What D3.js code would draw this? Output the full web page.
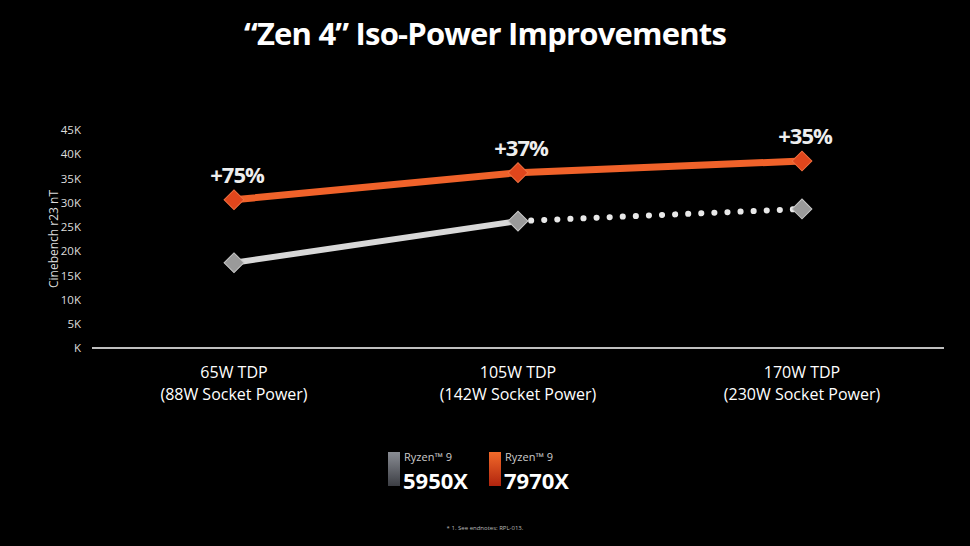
<!DOCTYPE html>
<html><head><meta charset="utf-8">
<script src="https://cdn.jsdelivr.net/npm/d3@7"></script>
<style>body{margin:0;background:#000}svg{display:block}</style>
</head><body><svg id="c" width="970" height="546"></svg>
<script>
const categories = ["65W TDP|(88W Socket Power)", "105W TDP|(142W Socket Power)", "170W TDP|(230W Socket Power)"];
const zen3 = [17600, 26200, 28700];
const zen4 = [30600, 36200, 38600];
const gains = ["+75%", "+37%", "+35%"];
const yTicks = [0, 5000, 10000, 15000, 20000, 25000, 30000, 35000, 40000, 45000];

const svg = d3.select("#c");
const F = "'Open Sans', Lato, sans-serif";
const defs = svg.append("defs");
const gg = defs.append("linearGradient").attr("id","gGray").attr("x1",0).attr("y1",0).attr("x2",0).attr("y2",1);
gg.append("stop").attr("offset",0).attr("stop-color","#8a8d94");
gg.append("stop").attr("offset",1).attr("stop-color","#3c3e44");
const go = defs.append("linearGradient").attr("id","gOr").attr("x1",0).attr("y1",0).attr("x2",0).attr("y2",1);
go.append("stop").attr("offset",0).attr("stop-color","#f26a2a");
go.append("stop").attr("offset",1).attr("stop-color","#b0240e");

const x = d3.scaleBand().domain(categories).range([92, 944]);
const y = d3.scaleLinear().domain([0, 45000]).range([348, 130]);
const cx = d => x(d) + x.bandwidth()/2;

svg.append("text").attr("x",485).attr("y",45).attr("text-anchor","middle")
  .attr("fill","#fff").attr("font-family",F).attr("font-weight",700).attr("font-size",31).attr("letter-spacing",-0.8)
  .text("\u201CZen 4\u201D Iso-Power Improvements");

svg.append("line").attr("x1",92).attr("x2",944).attr("y1",y(0)).attr("y2",y(0)).attr("stroke","#fff").attr("stroke-width",1.5);
const ya = svg.append("g").attr("transform","translate(84,0)")
  .call(d3.axisLeft(y).tickValues(yTicks).tickSize(0).tickFormat(d => (d/1000 || "") + "K"));
ya.select(".domain").remove();
ya.selectAll("text").attr("fill","#ddd").attr("font-family",F).attr("font-size",11.5);
svg.append("text").attr("transform","translate(58,239) rotate(-90)").attr("text-anchor","middle")
  .attr("fill","#ddd").attr("font-family",F).attr("font-size",12).text("Cinebench r23 nT");

categories.forEach(c => {
  const p = c.split("|");
  const t = svg.append("text").attr("x",cx(c)).attr("text-anchor","middle").attr("fill","#fff").attr("font-family",F).attr("font-size",16);
  t.append("tspan").attr("x",cx(c)).attr("y",378).text(p[0]);
  t.append("tspan").attr("x",cx(c)).attr("y",400).text(p[1]);
});

svg.append("line").attr("x1",cx(categories[0])).attr("y1",y(zen3[0])).attr("x2",cx(categories[1])).attr("y2",y(zen3[1]))
  .attr("stroke","#d8d8d8").attr("stroke-width",6);
svg.append("line").attr("x1",cx(categories[1])).attr("y1",y(zen3[1])).attr("x2",cx(categories[2])).attr("y2",y(zen3[2]))
  .attr("stroke","#e8e8e8").attr("stroke-width",6).attr("stroke-linecap","round").attr("stroke-dasharray","0.1 13");
svg.append("path").datum(zen4).attr("fill","none").attr("stroke","#f0622a").attr("stroke-width",7)
  .attr("d", d3.line().x((d,i)=>cx(categories[i])).y(d=>y(d)));

function diamonds(data, fill, stroke){
  svg.selectAll(null).data(data).enter().append("rect")
    .attr("x",-7).attr("y",-7).attr("width",14).attr("height",14)
    .attr("transform",(d,i)=>`translate(${cx(categories[i])},${y(d)}) rotate(45)`)
    .attr("fill",fill).attr("stroke",stroke).attr("stroke-width",1);
}
diamonds(zen3, "#9a9a9a", "#c8c8c8");
diamonds(zen4, "#e0461c", "#f07040");

svg.selectAll(null).data(gains).enter().append("text")
  .attr("x",(d,i)=>cx(categories[i])+3).attr("y",(d,i)=>y(zen4[i])-17).attr("text-anchor","middle")
  .attr("fill","#eee").attr("font-family",F).attr("font-weight",700).attr("font-size",22).attr("letter-spacing",-1).text(d=>d);

const leg = [["url(#gGray)", "5950X", 388], ["url(#gOr)", "7970X", 489]];
leg.forEach(([f, n, lx]) => {
  svg.append("rect").attr("x",lx).attr("y",452).attr("width",12).attr("height",34).attr("fill",f);
  svg.append("text").attr("x",lx+16).attr("y",461).attr("fill","#ccc").attr("font-family",F).attr("font-size",11).text("Ryzen\u2122 9");
  svg.append("text").attr("x",lx+15).attr("y",489).attr("fill","#fff").attr("font-family",F).attr("font-weight",700).attr("font-size",22).text(n);
});
svg.append("text").attr("x",485).attr("y",530).attr("text-anchor","middle").attr("fill","#bbb").attr("font-family",F).attr("font-size",6)
  .text("* 1. See endnotes: RPL-013.");
</script></body></html>
